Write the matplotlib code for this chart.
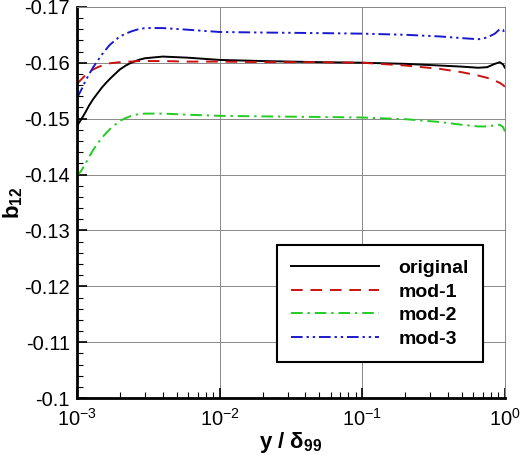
import matplotlib
matplotlib.use('Agg')
import matplotlib.pyplot as plt
from matplotlib.ticker import MultipleLocator, FuncFormatter, LogLocator

plt.rcParams['font.family'] = ['Liberation Sans', 'DejaVu Sans']
plt.rcParams['mathtext.fontset'] = 'custom'
plt.rcParams['mathtext.rm'] = 'Liberation Sans'
plt.rcParams['mathtext.bf'] = 'Liberation Sans:bold'

# wall distance y/delta99
y_d = [1e-3, 1.08e-3, 1.15e-3, 1.22e-3, 1.3e-3, 1.4e-3, 1.5e-3, 1.6e-3, 1.7e-3,
       1.85e-3, 2e-3, 2.2e-3, 2.4e-3, 2.7e-3, 3e-3, 4e-3, 6e-3,
       1e-2, 2e-2, 5e-2, 0.1, 0.2, 0.35, 0.5, 0.65, 0.75, 0.85, 0.92, 0.97, 1.0]

original = [-0.1487, -0.1500, -0.1512, -0.1524, -0.1535, -0.1546, -0.1556, -0.1564, -0.1571,
            -0.1580, -0.1588, -0.1595, -0.1600, -0.1605, -0.1608, -0.1611, -0.1609,
            -0.1605, -0.1603, -0.1601, -0.1600, -0.1598, -0.1595,
            -0.1593, -0.1591, -0.1592, -0.1598, -0.1601, -0.1597, -0.1591]
mod1 = [-0.1562, -0.1571, -0.1578, -0.1584, -0.1588, -0.1592, -0.1595, -0.1597, -0.1599,
        -0.1600, -0.1601, -0.1602, -0.1602, -0.1603, -0.1603, -0.1603, -0.1602,
        -0.1602, -0.1601, -0.1601, -0.1600, -0.1595, -0.1589,
        -0.1583, -0.1577, -0.1573, -0.1568, -0.1564, -0.1560, -0.1557]
mod2 = [-0.1397, -0.1408, -0.1420, -0.1432, -0.1444, -0.1456, -0.1466, -0.1474, -0.1481,
        -0.1489, -0.1496, -0.1501, -0.1505, -0.1508, -0.1509, -0.1509, -0.1507,
        -0.1505, -0.1504, -0.1503, -0.1502, -0.1499, -0.1494,
        -0.1489, -0.1486, -0.1486, -0.1488, -0.1489, -0.1485, -0.1477]
mod3 = [-0.1537, -0.1553, -0.1568, -0.1580, -0.1592, -0.1604, -0.1615, -0.1624, -0.1632,
        -0.1640, -0.1647, -0.1652, -0.1656, -0.1660, -0.1662, -0.1662, -0.1659,
        -0.1655, -0.1654, -0.1653, -0.1652, -0.1650, -0.1647,
        -0.1644, -0.1642, -0.1645, -0.1652, -0.1660, -0.1659, -0.1650]

fig = plt.figure(figsize=(5.2, 4.55), dpi=100)
ax = fig.add_axes([0.148, 0.125, 0.823, 0.86])

lw = 1.4
ax.plot(y_d, original, color='black', lw=lw, label='original')
ax.plot(y_d, mod1, color='#cc1111', lw=lw, ls=(0, (6, 4)), label='mod-1')
ax.plot(y_d, mod2, color='#22cc22', lw=lw, ls=(0, (6, 2.5, 1.2, 2.5)), label='mod-2')
ax.plot(y_d, mod3, color='#1a1acc', lw=lw, ls=(0, (6, 2, 1.2, 2, 1.2, 2)), label='mod-3')

ax.set_xscale('log')
ax.set_xlim(1e-3, 1)
ax.set_ylim(-0.1, -0.17)
ax.yaxis.set_major_locator(MultipleLocator(0.01))
ax.yaxis.set_minor_locator(MultipleLocator(0.002))
ax.yaxis.set_major_formatter(FuncFormatter(lambda v, p: '%g' % round(v, 3)))
ax.xaxis.set_minor_locator(LogLocator(base=10, subs=range(2, 10)))

ax.grid(True, which='major', color='#888888', lw=0.7)
ax.tick_params(which='both', direction='in', top=False, right=False, labelsize=14.5)
ax.tick_params(axis='x', pad=7)
ax.tick_params(axis='y', pad=5)
ax.tick_params(which='major', length=7, width=1.2)
ax.tick_params(which='minor', length=4, width=0.8)

for s in ['left', 'bottom']:
    ax.spines[s].set_linewidth(2)
for s in ['top', 'right']:
    ax.spines[s].set_color('#888888')
    ax.spines[s].set_linewidth(0.7)

ax.set_ylabel('b$_{\\mathbf{12}}$', fontsize=16, fontweight='bold')
ax.yaxis.set_label_coords(-0.122, 0.5)
ax.set_xlabel('y / δ$_{\\mathbf{99}}$', fontsize=16, fontweight='bold', labelpad=0)

leg = ax.legend(loc='lower right', bbox_to_anchor=(0.949, 0.092), borderaxespad=0,
                fancybox=False, framealpha=1, edgecolor='black', handlelength=4.5,
                prop={'weight': 'bold', 'size': 14}, borderpad=0.75, labelspacing=0.3,
                handletextpad=1.0)
leg.get_frame().set_linewidth(1.5)

fig.savefig('out.png', dpi=100)
